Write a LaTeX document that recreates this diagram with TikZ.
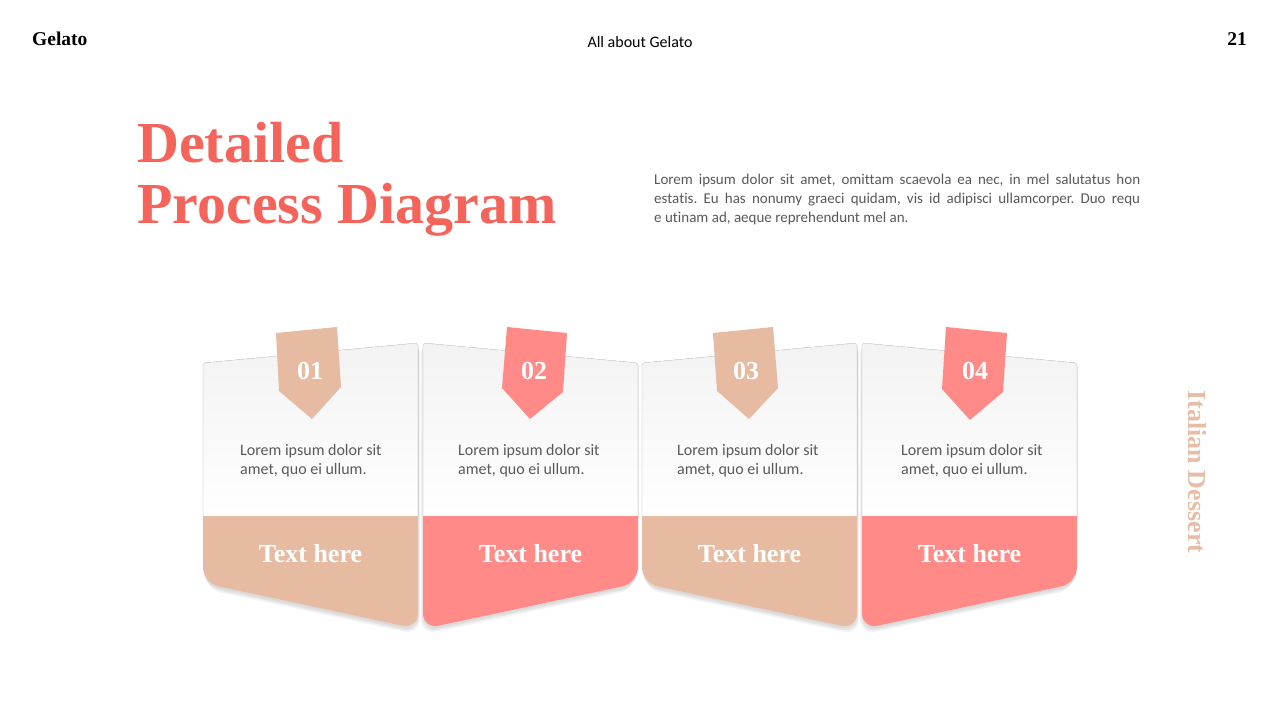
\documentclass[tikz,border=0pt]{standalone}
\usepackage{fontspec}
\setmainfont{Carlito}[Ligatures={NoCommon}]
\newfontfamily\disp{Liberation Serif}
\definecolor{coral}{HTML}{F4645B}
\definecolor{beige}{HTML}{E6BBA2}
\definecolor{pinkc}{HTML}{FF8A88}
\definecolor{txtgray}{HTML}{595959}
\definecolor{desc}{HTML}{E8BDA6}
\frenchspacing
\tikzset{
  serifbold/.style={inner sep=0pt, font=\disp\bfseries\fontsize{#1}{#1}\selectfont},
  numtxt/.style={serifbold=26, text=white},
  bandtxt/.style={serifbold=26, text=white},
  bodytxt/.style={inner sep=0pt, anchor=base west, align=left, text=txtgray, font=\fontsize{16}{19}\selectfont},
}
\newcommand\cardpath{(0,480) [rounded corners=3] -- (0,363) -- (215,343) -- (215,480) [rounded corners=16] -- (215,629) -- (0,583) -- cycle}
\newcommand\drawcard[3]{%
  \begin{scope}[shift={(#1,0)}, xscale=#2]
    \fill[black, opacity=0.04, shift={(0,2)}] \cardpath;
    \fill[black, opacity=0.06, shift={(1,4)}] \cardpath;
    \fill[black, opacity=0.05, shift={(2,6)}] \cardpath;
    \begin{scope}
      \clip \cardpath;
      \fill[top color=black!5, bottom color=white] (-5,335) rectangle (220,517);
      \fill[#3] (-5,516) rectangle (220,640);
    \end{scope}
    \draw[black!12, line width=0.6pt] (0,516) -- (0,480) [rounded corners=3] -- (0,363) -- (215,343) -- (215,480) -- (215,516);
  \end{scope}}
\begin{document}
\begin{tikzpicture}[x=1pt, y=-1pt]
\useasboundingbox (0,0) rectangle (1280,720);
\fill[white] (0,0) rectangle (1280,720);

% header
\node[serifbold=19.5, anchor=base west] (brand) at (32,45) {Gelato};
\node[inner sep=0pt, anchor=base, font=\fontsize{16}{16}\selectfont] (hdr) at (640,47) {All about Gelato};
\node[serifbold=19.5, anchor=base east] (page) at (1247,45) {21};

% title
\node[serifbold=58, anchor=base west, text=coral] (t1) at (137,162) {Detailed};
\node[serifbold=58, anchor=base west, text=coral] (t2) at (137,223) {Process Diagram};

% paragraph (base anchor = last line)
\node[inner sep=0pt, anchor=base west, align=left, text=txtgray, font=\fontsize{15}{19}\selectfont] (para) at (654,222)
 {\hbox to 486pt{Lorem ipsum dolor sit amet, omittam scaevola ea nec, in mel salutatus hon}\\
  \hbox to 486pt{estatis. Eu has nonumy graeci quidam, vis id adipisci ullamcorper. Duo requ}\\
  e utinam ad, aeque reprehendunt mel an.};

% vertical label
\node[serifbold=26, text=desc, rotate=-90] (side) at (1197,472) {Italian Dessert};

% cards
\drawcard{203}{1}{beige}
\drawcard{638}{-1}{pinkc}
\drawcard{642}{1}{beige}
\drawcard{1077}{-1}{pinkc}

% tags
\fill[beige] (276,333) -- (337,327) -- (341,387) -- (312,419) -- (279,391) -- cycle;
\fill[pinkc] (507,327) -- (567,333) -- (563,392) -- (530,419) -- (502,388) -- cycle;
\fill[beige] (713,333) -- (773,327) -- (778,388) -- (749,419) -- (717,391) -- cycle;
\fill[pinkc] (946,327) -- (1007,333) -- (1003,392) -- (970,420) -- (942,389) -- cycle;

\node[numtxt] (n1) at (310,371) {01};
\node[numtxt] (n2) at (534,371) {02};
\node[numtxt] (n3) at (746,371) {03};
\node[numtxt] (n4) at (975,371) {04};

% body texts (base anchor = last line)
\node[bodytxt] (b1) at (240,474) {Lorem ipsum dolor sit\\amet, quo ei ullum.};
\node[bodytxt] (b2) at (458,474) {Lorem ipsum dolor sit\\amet, quo ei ullum.};
\node[bodytxt] (b3) at (677,474) {Lorem ipsum dolor sit\\amet, quo ei ullum.};
\node[bodytxt] (b4) at (901,474) {Lorem ipsum dolor sit\\amet, quo ei ullum.};

% band texts
\node[bandtxt, anchor=base] (h1) at (310.5,562) {Text here};
\node[bandtxt, anchor=base] (h2) at (530.5,562) {Text here};
\node[bandtxt, anchor=base] (h3) at (749.5,562) {Text here};
\node[bandtxt, anchor=base] (h4) at (969.5,562) {Text here};
\end{tikzpicture}
\end{document}
